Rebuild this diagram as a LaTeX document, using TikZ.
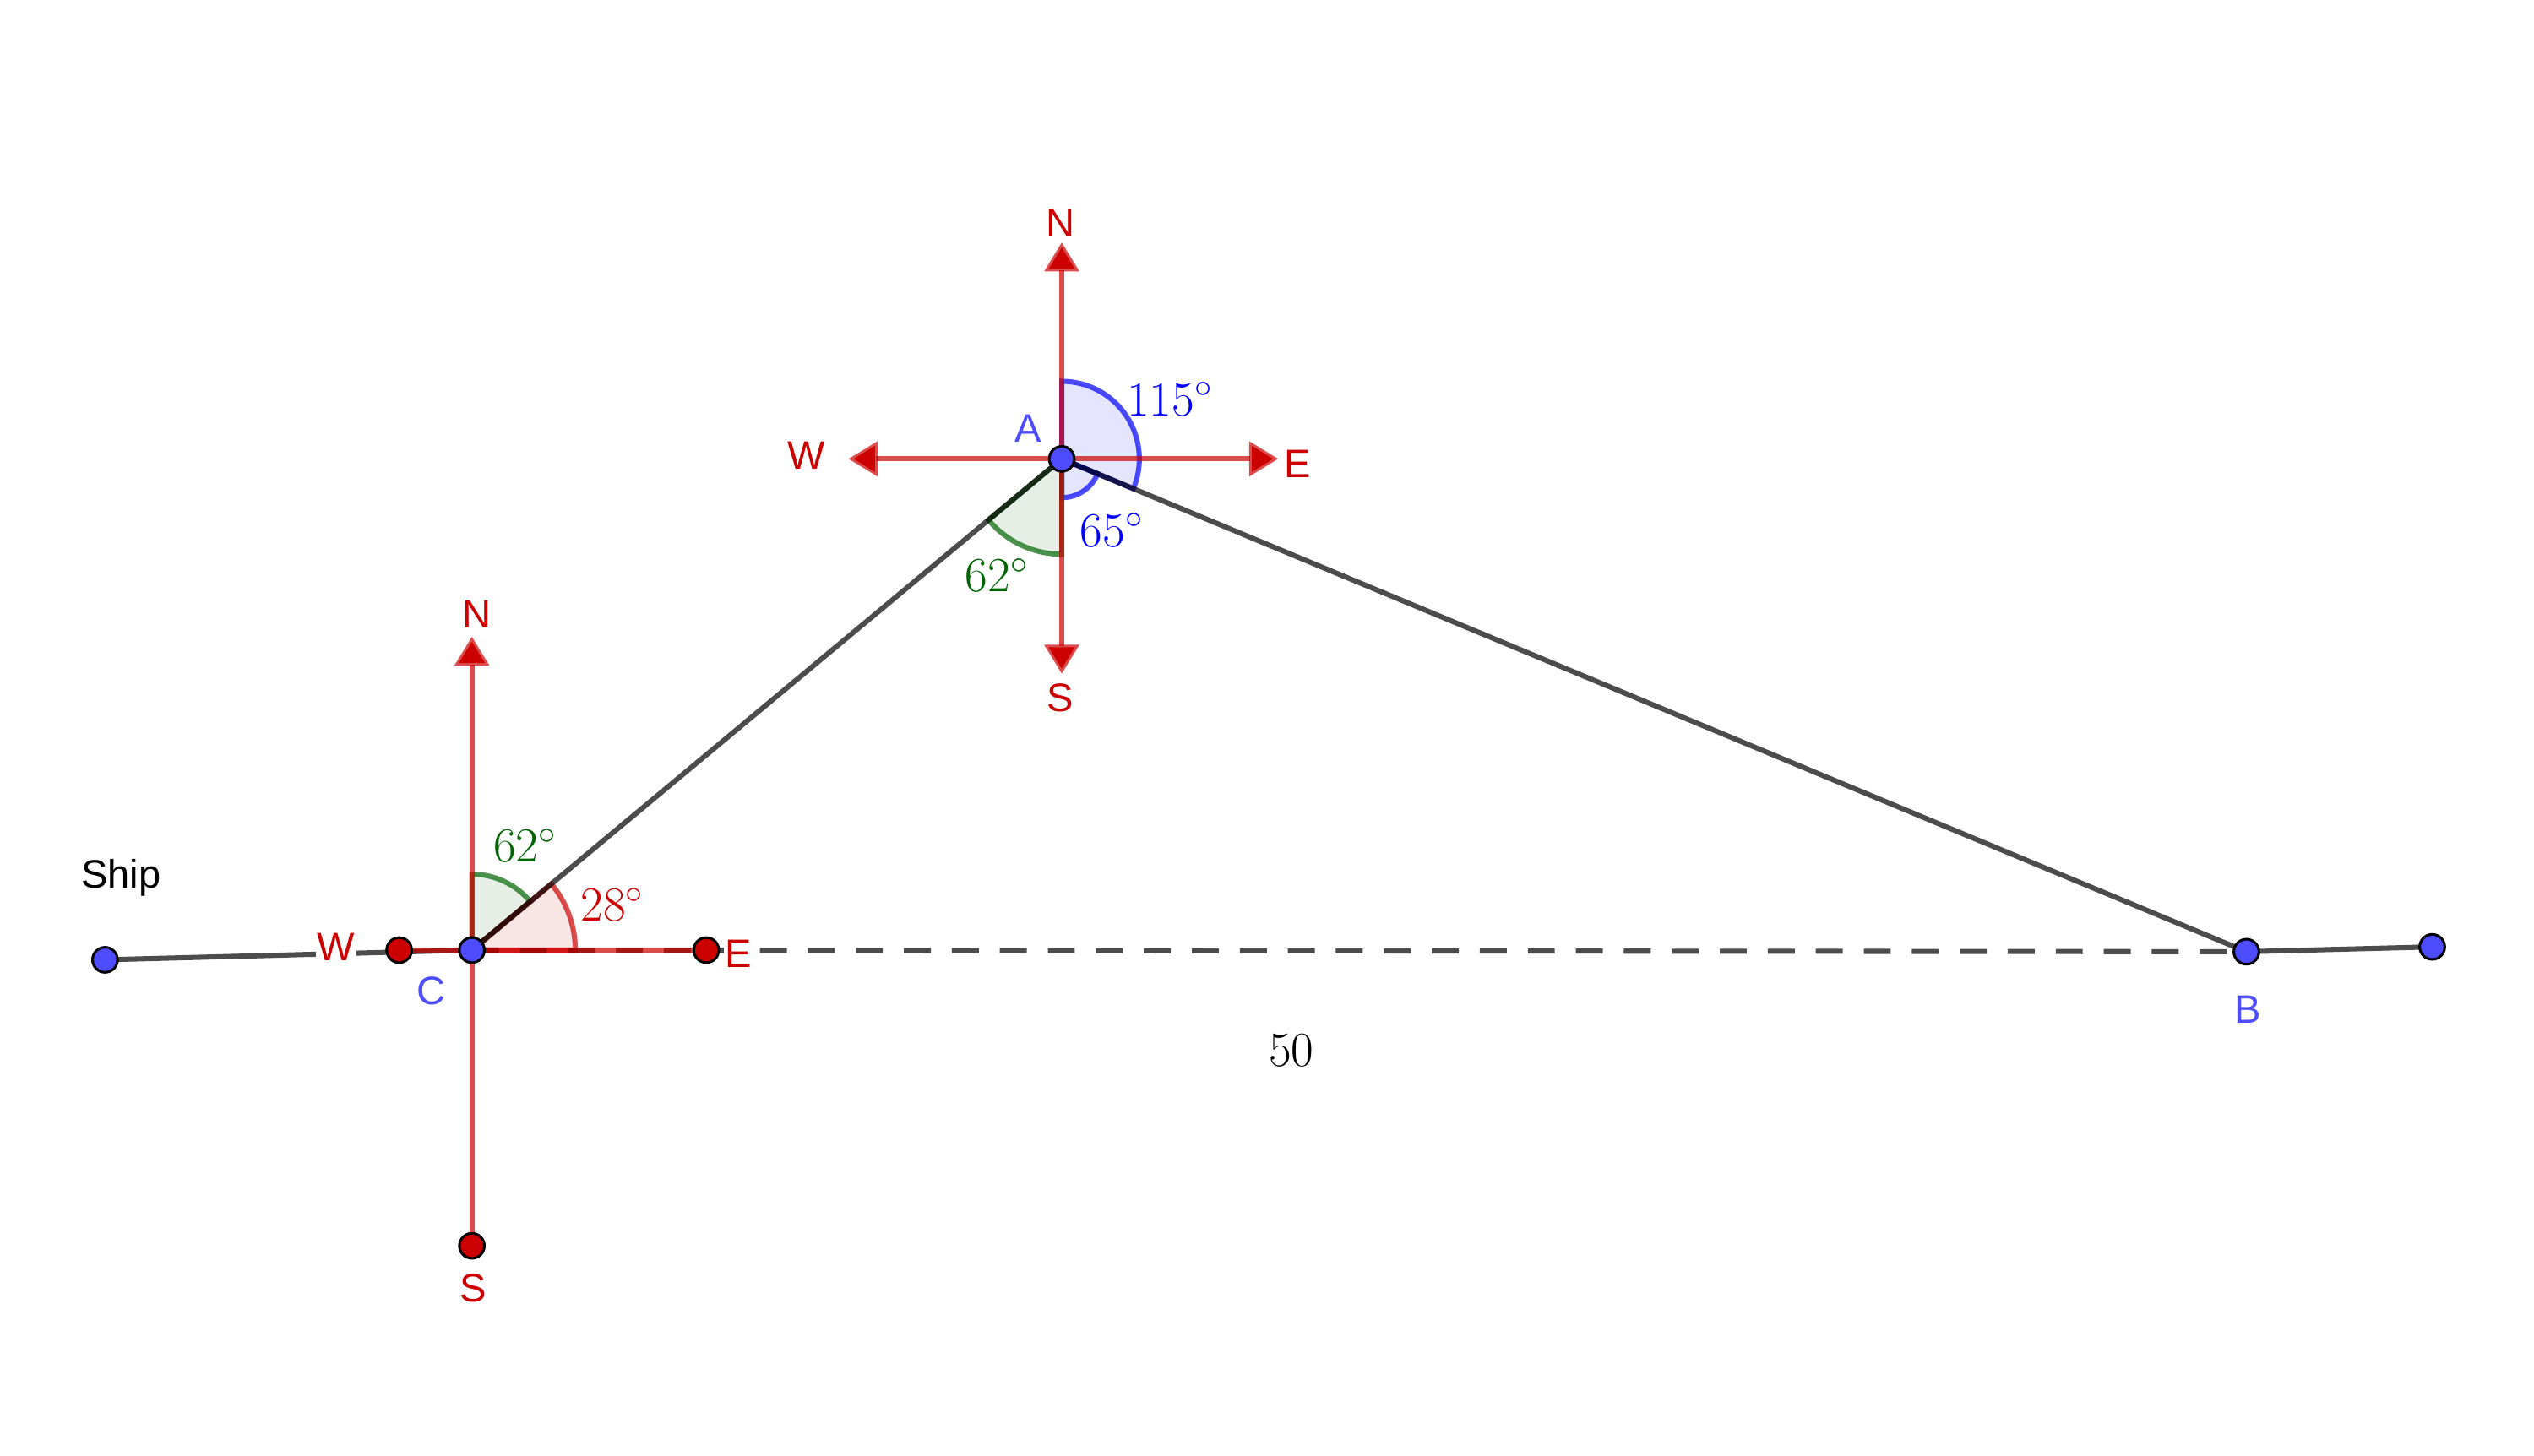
\documentclass[tikz,border=0pt]{standalone}
\usepackage{fontspec}
\newfontfamily\ggsans{Liberation Sans}
\usepackage{tikz}
\usetikzlibrary{calc}
\usetikzlibrary{arrows.meta}
\definecolor{G0}{HTML}{4D4DFF}
\definecolor{G1}{HTML}{CC0000}
\definecolor{G2}{HTML}{006400}
\definecolor{G3}{HTML}{0000FF}

\begin{document}
\begin{tikzpicture}[scale=2]
\tikzstyle{seg}=[draw=black,draw opacity=0.7,line width=1.8pt]
\tikzstyle{comp}=[draw=G1,draw opacity=0.7,line width=1.8pt]
\tikzstyle{carr}=[comp,-{Triangle[length=0.36cm,width=0.42cm]}]
\tikzstyle{angG}=[draw=G2,draw opacity=0.7,fill=G2,fill opacity=0.1,line width=1.8pt]
\tikzstyle{angB}=[angG,draw=G3,fill=G3]
\tikzstyle{angR}=[angG,draw=G1,fill=G1]
\tikzstyle{bpt}=[draw=black,fill=G0,shape=circle,line width=0.9pt,minimum size=0.31cm,inner sep=0pt]
\tikzstyle{rpt}=[bpt,fill=G1]
\tikzstyle{sl}=[font=\ggsans\fontsize{14}{16}\selectfont]
\tikzstyle{ml}=[font=\LARGE]

\useasboundingbox (0,0) rectangle (15.68,9.01);

\coordinate (A) at (6.57,6.17);
\coordinate (C) at (2.92,3.13);
\coordinate (B) at (13.90,3.12);
\coordinate (P) at (0.65,3.07);
\coordinate (Q) at (15.05,3.15);
\coordinate (CW) at (2.47,3.13);
\coordinate (CE) at (4.37,3.13);
\coordinate (CS) at (2.92,1.30);
\coordinate (CN) at (2.92,5.07);
\coordinate (AN) at (6.57,7.51);
\coordinate (AS) at (6.57,4.84);
\coordinate (AW) at (5.25,6.17);
\coordinate (AE) at (7.91,6.17);
%
\draw[angG] (C) -- ++(90:0.47) arc[start angle=90,end angle=39.8,radius=0.47] -- cycle;
\draw[angR] (C) -- ++(0:0.64) arc[start angle=0,end angle=39.8,radius=0.64] -- cycle;
\draw[angB] (A) -- ++(90:0.48) arc[start angle=90,end angle=-22.6,radius=0.48] -- cycle;
\draw[angB] (A) -- ++(-90:0.24) arc[start angle=-90,end angle=-22.6,radius=0.24] -- cycle;
\draw[angG] (A) -- ++(219.8:0.59) arc[start angle=219.8,end angle=270,radius=0.59] -- cycle;
%
\draw[seg] (P) -- (C);
\draw[seg,dash pattern=on 9.5pt off 7.4pt] (C) -- (B);
\draw[seg] (B) -- (Q);
\draw[seg] (C) -- (A);
\draw[seg] (A) -- (B);
%
\draw[comp] (CW) -- (CE);
\draw[carr] (CS) -- (CN);
\draw[carr] (A) -- (AN);
\draw[carr] (A) -- (AS);
\draw[carr] (A) -- (AW);
\draw[carr] (A) -- (AE);
%
\node[rpt] (dCW) at (CW){};
\node[rpt] (dCE) at (CE){};
\node[rpt] (dCS) at (CS){};
\node[bpt] (dP) at (P){};
\node[bpt] (dQ) at (Q){};
\node[bpt] (dB) at (B){};
\node[bpt] (dC) at (C){};
\node[bpt] (dA) at (A){};
%
\node[sl,text=G1] (lAN) at (6.56,7.63){N};
\node[sl,text=G1] (lAS) at (6.56,4.69){S};
\node[sl,text=G1] (lAW) at (4.99,6.19){W};
\node[sl,text=G1] (lAE) at (8.03,6.14){E};
\node[sl,text=G1] (lCN) at (2.95,5.21){N};
\node[sl,text=G1] (lCS) at (2.93,1.04){S};
\node[sl,text=G1,fill=white,inner sep=0.5pt] (lCW) at (2.08,3.15){W};
\node[sl,text=G1,fill=white,inner sep=0.5pt] (lCE) at (4.57,3.11){E};
\node[sl,text=G0] (lA) at (6.36,6.36){A};
\node[sl,text=G0] (lB) at (13.91,2.76){B};
\node[sl,text=G0] (lC) at (2.67,2.88){C};
\node[sl] (lship) at (0.75,3.58){Ship};
%
\node[ml,text=G3] (a115) at (7.24,6.54){$115^\circ$};
\node[ml,text=G3] (a65) at (6.88,5.73){$65^\circ$};
\node[ml,text=G2] (a62A) at (6.17,5.45){$62^\circ$};
\node[ml,text=G2] (a62C) at (3.25,3.78){$62^\circ$};
\node[ml,text=G1] (a28) at (3.79,3.41){$28^\circ$};
\node[ml] (d50) at (7.99,2.51){$50$};
\end{tikzpicture}
\end{document}
